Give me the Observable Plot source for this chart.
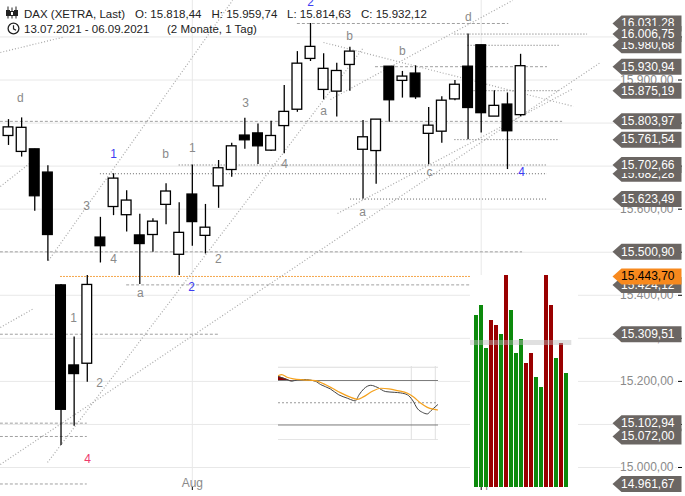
<!DOCTYPE html>
<html><head><meta charset="utf-8">
<script src="https://cdn.jsdelivr.net/npm/d3@7"></script>
<script src="https://cdn.jsdelivr.net/npm/@observablehq/plot@0.6"></script>
<style>
body{margin:0;background:#fff;}
#wrap{position:relative;width:685px;height:496px;overflow:hidden;font-family:"Liberation Sans",Arial,sans-serif;background:#fff;}
#wrap > svg{position:absolute;left:0;top:0;}
.h{position:absolute;white-space:pre;font-size:11.5px;line-height:12px;color:#222;}
</style></head><body><div id="wrap"></div>
<script>
// ---------- data ----------
const dates = ["13.07.","14.07.","15.07.","16.07.","19.07.","20.07.","21.07.","22.07.","23.07.","26.07.","27.07.","28.07.","29.07.","30.07.",
  "02.08.","03.08.","04.08.","05.08.","06.08.","09.08.","10.08.","11.08.","12.08.","13.08.","16.08.","17.08.","18.08.","19.08.","20.08.",
  "23.08.","24.08.","25.08.","26.08.","27.08.","30.08.","31.08.","01.09.","02.09.","03.09.","06.09."];
const open  = [15770,15733,15739,15685,15423,15237,15241,15534,15605,15586,15539,15540,15610,15494,15634,15538,15653,15691,15771,15776,
  15736,15793,15831,15949,15877,15873,15935,15738,15735,15930.94,15898,15915,15775,15780,15855,15931,15980.68,15815,15843,15818.44];
const high  = [15808,15812,15739,15701,15425,15303,15446,15581,15682.28,15643,15588,15578,15659,15615,15702.66,15611,15713,15753,15811,15798,
  15803.97,15887,15966,16031.28,15961,15939,15976,15806,15808,15930.94,15920,15933,15836,15861,15899,16006.75,15980.68,15875.19,15870,15959.74];
const low   = [15748,15721,15595,15479,15051,15096,15198,15475,15585,15547,15425,15500,15564,15446,15514,15496,15602,15674,15739,15704,
  15734,15729,15825,15943,15854,15814,15874,15623.49,15658,15802,15858,15855,15703,15753,15852,15761.54,15777,15815,15692,15814.63];
const close = [15790,15789,15630,15540,15134,15217,15424,15514,15671,15620,15519,15571,15641,15545,15570,15557,15695,15746,15760,15746,
  15770,15826,15938,15977,15926,15921,15966,15767,15808,15853,15908,15860,15794,15852,15889,15835,15823,15840,15781,15932.12];

const yTicks = [15000,15100,15200,15300,15400,15500,15600,15700,15800,15900,16000];
const monthIdx = [14,36];
const monthLabel = ["Aug","Sep"];

// price levels (value, from candle index, to candle index, kind)
const levelValue = [16031.28,16006.75,15980.68,15930.94,15875.19,15803.97,15761.54,15702.66,15682.28,15623.49,15500.90,15443.70,15424.12,15309.51,15102.94,15072.00,14961.67];
const levelFrom  = [22.0,34.0,35.0,27.95,35.0,-0.62,34.0,13.0,7.0,26.05,-0.62,3.96,9.0,-0.62,-0.62,-0.62,-0.62];
const levelTo    = [38.1,44.1,42.0,41.05,42.0,42.2,42.0,41.05,41.05,41.05,39.15,35.2,35.2,16.0,6.0,6.0,6.0];
const levelKind  = ["dash","dot","dot","dash","dot","dash","dot","dot","dot","dot","dash","current","dash","dash","dash","dash","dash"];
const tagDrawOrder = [0,2,1,3,4,5,6,8,7,9,10,12,11,13,14,15,16];

// trend lines
const diagFromI = [2.97,-0.62,3.05,25.06,24.52,23.99,-0.62,-0.62,-0.62];
const diagFromV = [15011.6,15007,15480.8,15590,15854.8,15987.2,15325,15964,15652.7];
const diagToI   = [27.04,45.09,17.06,43.03,38.39,43.03,1.90,4.11,1.90];
const diagToV   = [15975.6,15940.8,16084.8,15880.4,16084.8,15838.6,15369,15999,15713.1];

// wave labels
const waveText  = ["d","1","b","1","3","4","a","2","2","3","1","2","4","4","a","b","b","d","c","4","a","2"];
const waveI     = [0.91,8.0,11.96,14.0,5.94,8.0,10.05,13.94,15.99,18.05,4.95,6.93,6.02,21.02,23.99,25.97,30.0,35.03,32.06,39.07,26.96,23.0];
const waveV     = [15857,15727,15727,15741,15606,15483,15404,15418,15483,15846,15346,15195,15019,15704,15827,16001,15966,16045,15685,15685,15592,16080];
const waveGroup = ["g","b","g","g","g","g","g","b","g","g","g","g","r","g","g","g","g","g","g","b","g","b"];

// volume inset
const volume  = [172,182,139,167,162,153,230,177,134,148,124,134,110,100,230,182,129,144,114];
const volUp   = [1,1,1,0,0,1,0,1,1,1,0,0,1,1,0,0,1,0,1];
const volAvg  = [145];

// oscillator inset
const kT = [0,1.3,2.5,3.5,4.7,6.9,7.9,9.7,11.3,12.9,14.1,14.4,15.1,16,17.3,18.5,20.1,21.7,22.9,24.2,25.1,26.1,27,27.9,28.6,29.5,30];
const kV = [85.4,82.3,79.1,81,81.4,79.1,74.6,68.8,60.7,56.2,52.9,52.5,60.7,68.8,73.6,70.9,65.1,64.1,63.3,60.6,53.8,41.6,37.0,34.9,39.4,45.2,48.4];
const dT = [0,0.6,1.6,2.8,4.7,6.9,8.5,10.1,11.6,13.2,14.8,16,17.6,19.2,20.7,22.3,24.2,25.4,26.7,27.9,29.2,29.8];
const dV = [86.8,88.1,84.5,82.3,81,80,75.5,69.6,63.7,58.3,54.7,58.3,65.5,69.6,68.8,66.4,62.8,57.4,49.2,43.8,41.1,40.3];
const oscBands = [80,20];
const oscMid = [50];
const oscEdges = [98,0];
const oscVerticals = [24.9,29.4];

// header
const headerTitle = "DAX (XETRA, Last)";
const ohlcNames = ["O","H","L","C"];
const rangeText = "13.07.2021 - 06.09.2021";
const spanText = "(2 Monate, 1 Tag)";

// ---------- build ----------
const loc = d3.formatLocale({decimal: ",", thousands: ".", grouping: [3], currency: ["", "€"]});
const fmt = loc.format(",.2f");

const candles = dates.map((d, i) => ({i, date: d, open: open[i], high: high[i], low: low[i], close: close[i]}));
const levels = levelValue.map((v, k) => ({v, from: levelFrom[k], to: levelTo[k], kind: levelKind[k]}));
const diags = diagFromI.map((x, k) => ({x1: x, y1: diagFromV[k], x2: diagToI[k], y2: diagToV[k]}));
const waves = waveText.map((t, k) => ({t, i: waveI[k], v: waveV[k], g: waveGroup[k]}));
const months = monthIdx.map((i, k) => ({i, label: monthLabel[k]}));
const waveColor = {g: "#8a8a8a", b: "#3d3df2", r: "#ee3a6c"};

const tagShape = {draw(ctx) {
  ctx.moveTo(-65, 0); ctx.lineTo(-56, -8); ctx.lineTo(4, -8); ctx.lineTo(4, 8); ctx.lineTo(-56, 8); ctx.closePath();
}};

const tagMarks = tagDrawOrder.flatMap(k => {
  const L = levels[k];
  const cur = L.kind === "current";
  return [
    Plot.dot([L], {y: "v", frameAnchor: "right", symbol: tagShape, r: 5, fill: cur ? "#f7891e" : "#6b6663", stroke: "none"}),
    Plot.text([L], {y: "v", text: d => fmt(d.v), frameAnchor: "right", textAnchor: "end", dx: -3,
      fill: cur ? "#000" : "#fff", fontSize: 12})
  ];
});

const main = Plot.plot({
  width: 685, height: 496,
  marginTop: 0, marginRight: 8, marginBottom: 9, marginLeft: 0,
  x: {type: "linear", domain: [-0.609, 50.95]},
  y: {domain: [14953.5, 16084.7]},
  style: {fontFamily: "Liberation Sans, Arial, sans-serif", fontSize: "12px", background: "white"},
  marks: [
    Plot.ruleY(yTicks, {stroke: "#e8e8e8"}),
    Plot.ruleX(months, {x: "i", stroke: "#e8e8e8"}),
    Plot.ruleY(levels.filter(d => d.kind === "dash"), {y: "v", x1: "from", x2: "to", stroke: "#a0a0a0", strokeDasharray: "3,2"}),
    Plot.ruleY(levels.filter(d => d.kind === "dot"), {y: "v", x1: "from", x2: "to", stroke: "#666", strokeDasharray: "1,2"}),
    Plot.ruleY(levels.filter(d => d.kind === "current"), {y: "v", x1: "from", x2: "to", stroke: "#f5a64a", strokeDasharray: "2,1"}),
    Plot.link(diags, {x1: "x1", y1: "y1", x2: "x2", y2: "y2", stroke: "#a8a8a8", strokeWidth: 1.2, strokeDasharray: "1,2"}),
    Plot.ruleX(candles, {x: "i", y1: "low", y2: "high", stroke: "#000", strokeWidth: 1.3}),
    Plot.rect(candles.filter(d => d.close >= d.open), {x1: d => d.i - 0.37, x2: d => d.i + 0.37, y1: "open", y2: "close",
      fill: "white", stroke: "#000", strokeWidth: 1.3}),
    Plot.rect(candles.filter(d => d.close < d.open), {x1: d => d.i - 0.37, x2: d => d.i + 0.37, y1: "open", y2: "close",
      fill: "#000", stroke: "#000", strokeWidth: 1.3}),
    ...["g", "b", "r"].map(g => Plot.text(waves.filter(d => d.g === g), {x: "i", y: "v", text: "t", fill: waveColor[g], fontSize: 12})),
    Plot.axisY(yTicks, {anchor: "right", tickSize: 4, tickFormat: () => "", label: null}),
    Plot.axisY(yTicks, {anchor: "right", tickSize: 0, tickPadding: 0, tickFormat: fmt, textAnchor: "end", dx: -4,
      fill: "#8a8a8a", textStroke: "white", textStrokeWidth: 4, label: null, fontSize: 12}),
    Plot.axisX(monthIdx, {anchor: "bottom", tickSize: 3, tickFormat: () => "", label: null}),
    Plot.text(months, {x: "i", text: "label", frameAnchor: "bottom", lineAnchor: "bottom", dy: -1, fill: "#8a8a8a", fontSize: 12}),
    ...tagMarks
  ]
});

const osc = Plot.plot({
  width: 160, height: 74, margin: 0,
  x: {domain: [0, 30], axis: null},
  y: {domain: [-1, 99], axis: null},
  style: {background: "white"},
  marks: [
    Plot.ruleY(oscEdges, {stroke: "#dcdcdc"}),
    Plot.ruleX(oscVerticals, {stroke: "#e0e0e0"}),
    Plot.ruleY(oscBands, {stroke: "#777"}),
    Plot.ruleY(oscMid, {stroke: "#999", strokeDasharray: "2,2"}),
    Plot.areaY(kT.slice(0, 3).map((t, k) => ({t, v: kV[k]})), {x: "t", y1: 80, y2: "v", fill: "#8b0000"}),
    Plot.line(kT.map((t, k) => ({t, v: kV[k]})), {x: "t", y: "v", stroke: "#444", strokeWidth: 1, curve: "monotone-x"}),
    Plot.line(dT.map((t, k) => ({t, v: dV[k]})), {x: "t", y: "v", stroke: "#f5a11c", strokeWidth: 1.2, curve: "monotone-x"})
  ]
});

const vol = Plot.plot({
  width: 108, height: 212, marginTop: 0, marginLeft: 0, marginBottom: 0, marginRight: 6.7,
  x: {type: "band", domain: volume.map((v, k) => k), paddingInner: 0.3, paddingOuter: 0.15, axis: null},
  y: {domain: [0, 212], clamp: true, axis: null},
  style: {background: "white"},
  marks: [
    Plot.barY(volume.map((v, k) => ({k, v})).filter(d => volUp[d.k]), {x: "k", y: "v", fill: "#0c8a0c"}),
    Plot.barY(volume.map((v, k) => ({k, v})).filter(d => !volUp[d.k]), {x: "k", y: "v", fill: "#990000"}),
    Plot.ruleY(volAvg, {stroke: "#bbbbbb", strokeWidth: 5, strokeOpacity: 0.45})
  ]
});

const wrap = document.getElementById("wrap");
wrap.appendChild(main);
osc.style.left = "278px"; osc.style.top = "366px";
vol.style.left = "470px"; vol.style.top = "275px";
wrap.appendChild(osc);
wrap.appendChild(vol);

// header
function addSpan(text, left, top) {
  const s = document.createElement("div");
  s.className = "h"; s.textContent = text;
  s.style.left = left + "px"; s.style.top = top + "px";
  wrap.appendChild(s);
}
const last = candles[candles.length - 1];
const ohlcVals = [last.open, last.high, last.low, last.close];
addSpan(headerTitle, 24, 7.5);
const ohlcLeft = [135, 211.5, 287, 361];
ohlcNames.forEach((n, k) => addSpan(n + ": " + fmt(ohlcVals[k]), ohlcLeft[k], 7.5));
addSpan(rangeText, 24, 23);
addSpan(spanText, 167, 23);

const icons = document.createElement("div");
icons.innerHTML =
 '<svg style="position:absolute;left:6px;top:6px" width="12" height="13" viewBox="0 0 12 13">' +
 '<g stroke="#222" stroke-width="1" fill="none">' +
 '<line x1="2" y1="0.5" x2="2" y2="12.5"/><rect x="0.5" y="4.5" width="3" height="5" fill="#222"/>' +
 '<line x1="6" y1="1.5" x2="6" y2="12.5"/><rect x="4.5" y="5.5" width="3" height="4" fill="#fff"/>' +
 '<line x1="10" y1="0.5" x2="10" y2="12.5"/><rect x="8.5" y="4.5" width="3" height="5" fill="#222"/></g></svg>' +
 '<svg style="position:absolute;left:7px;top:22px" width="13" height="13" viewBox="0 0 13 13">' +
 '<circle cx="6.5" cy="6.5" r="5.4" stroke="#222" stroke-width="1.3" fill="none"/>' +
 '<path d="M6.5 3.2 V6.8 L9 8.3" stroke="#222" stroke-width="1.2" fill="none"/></svg>';
wrap.appendChild(icons);
</script></body></html>
